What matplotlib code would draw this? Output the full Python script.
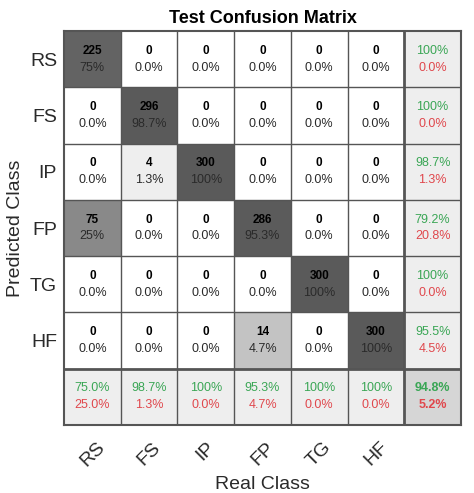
import numpy as np
import matplotlib
matplotlib.use("Agg")
import matplotlib.pyplot as plt
from matplotlib.colors import LinearSegmentedColormap, LogNorm
from matplotlib.patches import Rectangle

plt.rcParams["font.family"] = ["Liberation Sans", "DejaVu Sans"]

classes = ["RS", "FS", "IP", "FP", "TG", "HF"]
# rows = predicted class, columns = real class
counts = np.array([
    [225, 0, 0, 0, 0, 0],
    [0, 296, 0, 0, 0, 0],
    [0, 4, 300, 0, 0, 0],
    [75, 0, 0, 286, 0, 0],
    [0, 0, 0, 0, 300, 0],
    [0, 0, 0, 14, 0, 300],
])

GREEN = "#3aa655"
RED = "#e0474c"
LINE = "#555555"
TXT = "#2a2a2a"

n = len(classes)
col_tot = counts.sum(axis=0)
row_tot = counts.sum(axis=1)
diag = np.diag(counts)
total = counts.sum()

fig = plt.figure(figsize=(4.74, 4.93), dpi=100)
ax = fig.add_axes([0.135, 0.138, 0.8376, 0.799])

# shading on a log scale of the counts, zero cells stay white
cmap = LinearSegmentedColormap.from_list("cm", ["#ffffff", "#5a5a5a"])
cmap.set_bad("#ffffff")
cmap.set_under("#ffffff")
shade = np.ma.masked_equal(counts, 0)
ax.imshow(shade, cmap=cmap, norm=LogNorm(vmin=2.5, vmax=300),
          extent=(-0.5, n - 0.5, n - 0.5, -0.5), aspect="auto", zorder=0)

# summary cells
for i in range(n):
    ax.add_patch(Rectangle((n - 0.5, i - 0.5), 1, 1, fc="#eeeeee", ec="none"))
    ax.add_patch(Rectangle((i - 0.5, n - 0.5), 1, 1, fc="#eeeeee", ec="none"))
ax.add_patch(Rectangle((n - 0.5, n - 0.5), 1, 1, fc="#d6d6d6", ec="none"))

# cell text
for i in range(n):
    for j in range(n):
        c = counts[i, j]
        ax.text(j, i - 0.15, f"{c}", ha="center", va="center",
                fontsize=8.5, fontweight="bold", color="black")
        p = 100 * c / col_tot[j]
        s = "100%" if p == 100 else (f"{p:.0f}%" if c and p == round(p) else f"{p:.1f}%")
        ax.text(j, i + 0.15, s, ha="center", va="center", fontsize=9, color=TXT)


def pct(v):
    return "100%" if round(v, 1) == 100 else f"{v:.1f}%"


for i in range(n):
    good = 100 * diag[i] / row_tot[i]
    ax.text(n, i - 0.15, pct(good), ha="center", va="center", fontsize=9, color=GREEN)
    ax.text(n, i + 0.15, f"{100 - good:.1f}%", ha="center", va="center", fontsize=9, color=RED)
    good = 100 * diag[i] / col_tot[i]
    ax.text(i, n - 0.15, pct(good), ha="center", va="center", fontsize=9, color=GREEN)
    ax.text(i, n + 0.15, f"{100 - good:.1f}%", ha="center", va="center", fontsize=9, color=RED)

acc = 100 * diag.sum() / total
ax.text(n, n - 0.15, f"{acc:.1f}%", ha="center", va="center", fontsize=9,
        fontweight="bold", color=GREEN)
ax.text(n, n + 0.15, f"{100 - acc:.1f}%", ha="center", va="center", fontsize=9,
        fontweight="bold", color=RED)

# grid lines
for k in range(1, n + 1):
    lw = 2.0 if k == n else 1.0
    ax.axvline(k - 0.5, color=LINE, lw=lw)
    ax.axhline(k - 0.5, color=LINE, lw=lw)

ax.set_xlim(-0.5, n + 0.5)
ax.set_ylim(n + 0.5, -0.5)
for sp in ax.spines.values():
    sp.set_color(LINE)
    sp.set_linewidth(1.5)

ax.set_xticks(range(n))
ax.set_xticklabels(classes, rotation=45, ha="center", va="top",
                   fontsize=14, color=TXT)
ax.set_yticks(range(n))
ax.set_yticklabels(classes, fontsize=14, color=TXT)
ax.tick_params(length=0)
ax.tick_params(axis="y", pad=5)
ax.tick_params(axis="x", pad=10)

ax.set_title("Test Confusion Matrix", fontsize=13, fontweight="bold", pad=6)
ax.set_xlabel("Real Class", fontsize=14, color=TXT, labelpad=4)
ax.set_ylabel("Predicted Class", fontsize=14, color=TXT, labelpad=4)

fig.savefig("out.png", dpi=100)
